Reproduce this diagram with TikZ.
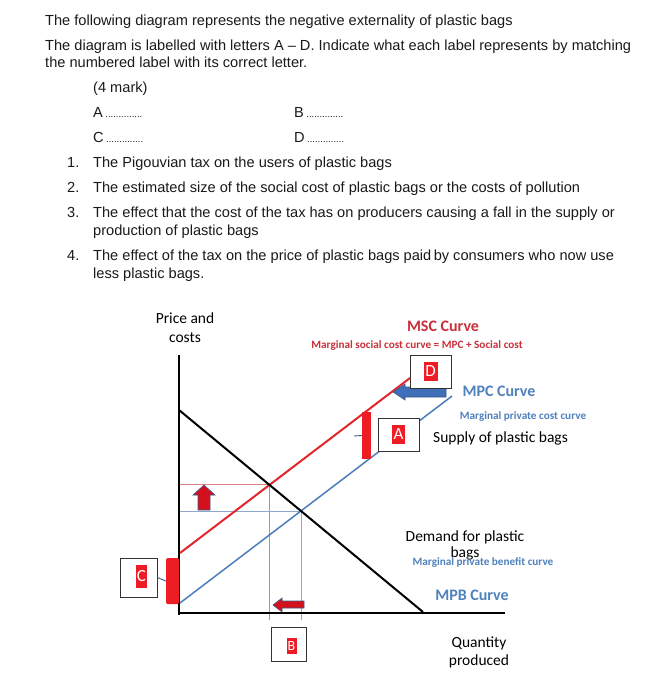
\documentclass[tikz,border=0pt]{standalone}
\usepackage{fontspec}
\setmainfont{Liberation Sans}
\newfontfamily\hdr{Liberation Sans}
\newfontfamily\dg{Carlito}
\usetikzlibrary{calc}
\definecolor{mscred}{HTML}{E3262C}
\definecolor{mpcblue}{HTML}{4A7EBB}
\definecolor{txtred}{HTML}{C9303A}
\definecolor{txtblue}{HTML}{4F81BD}
\definecolor{barred}{HTML}{EE1C25}
\definecolor{arrred}{HTML}{D3101C}
\definecolor{arrline}{HTML}{3B5A8A}
\definecolor{arrblue}{HTML}{3E6FB8}
\definecolor{thinred}{HTML}{D98080}
\definecolor{thinblue}{HTML}{8FA8CC}
\definecolor{hdrcol}{HTML}{1A1A1A}
\newcommand{\ansdots}{\,{\fontsize{9.5}{9}\selectfont ..............}}
\begin{document}
\begin{tikzpicture}[x=1pt,y=-1pt,
  hdrtext/.style={anchor=base west,inner sep=0pt,text=hdrcol,font=\hdr\fontsize{14.6}{17}\selectfont},
  dgtext/.style={inner sep=0pt,font=\dg\fontsize{15.5}{18}\selectfont},
  bigred/.style={inner sep=0pt,text=txtred,font=\dg\bfseries\fontsize{16}{18}\selectfont},
  smallred/.style={inner sep=0pt,text=txtred,font=\dg\bfseries\fontsize{11.2}{12}\selectfont},
  bigblue/.style={inner sep=0pt,text=txtblue,font=\dg\bfseries\fontsize{16}{18}\selectfont},
  smallblue/.style={inner sep=0pt,text=txtblue,font=\dg\bfseries\fontsize{11.2}{12}\selectfont},
  axisline/.style={line width=2.6pt,black},
  demandline/.style={line width=2pt,black},
  mscline/.style={line width=2pt,mscred},
  mpcline/.style={line width=1.5pt,mpcblue},
  guidered/.style={line width=0.9pt,thinred},
  guideblue/.style={line width=0.9pt,thinblue},
  letterbox/.style={draw=black!80,line width=0.9pt,fill=white,inner sep=0pt},
  letterfill/.style={fill=barred,text=white,inner sep=0pt,font=\dg\fontsize{17}{17}\selectfont},
  redbar/.style={fill=barred,draw=none},
  blockred/.style={fill=arrred,draw=arrline,line width=0.6pt,line join=miter},
  blockblue/.style={fill=arrblue,draw=arrline,line width=0.6pt,line join=miter},
  tick/.style={line width=0.9pt,arrline}
]
\useasboundingbox[fill=white] (0,0) rectangle (671,700);

% ---------- header text ----------
\node[hdrtext] (h1) at (45,26) {The following diagram represents the negative externality of plastic bags};
\node[hdrtext] (h2) at (45,51) {The diagram is labelled with letters A – D. Indicate what each label represents by matching};
\node[hdrtext] (h3) at (45,68) {the numbered label with its correct letter.};
\node[hdrtext] (h4) at (93,93) {(4 mark)};
\node[hdrtext] (la) at (93,118) {A\ansdots};
\node[hdrtext] (lb) at (294,118) {B\ansdots};
\node[hdrtext] (lc) at (93,143) {C\ansdots};
\node[hdrtext] (ld) at (294,143) {D\ansdots};
\node[hdrtext] (n1) at (67,168) {1.};
\node[hdrtext] (t1) at (93,168) {The Pigouvian tax on the users of plastic bags};
\node[hdrtext] (n2) at (67,193) {2.};
\node[hdrtext] (t2) at (93,193) {The estimated size of the social cost of plastic bags or the costs of pollution};
\node[hdrtext] (n3) at (67,218) {3.};
\node[hdrtext] (t3a) at (93,218) {The effect that the cost of the tax has on producers causing a fall in the supply or};
\node[hdrtext] (t3b) at (93,236) {production of plastic bags};
\node[hdrtext] (n4) at (67,261) {4.};
\node[hdrtext] (t4a) at (93,261) {The effect of the tax on the price of plastic bags paid\,by consumers who now use};
\node[hdrtext] (t4b) at (93,278) {less plastic bags.};

% ---------- diagram coordinates ----------
\coordinate (yTop) at (179,355);
\coordinate (orig) at (179,613);
\coordinate (xEnd) at (505,613);
\coordinate (d1) at (179,410);
\coordinate (d2) at (423,612);
\coordinate (s1) at (180,553);
\coordinate (s2) at (410,378);
\coordinate (p1) at (180,603);
\coordinate (p2) at (452,396);
\coordinate (e1) at (intersection of s1--s2 and d1--d2);
\coordinate (e0) at (intersection of p1--p2 and d1--d2);
\coordinate (qLow) at (179,620);

% guide lines
\draw[guidered] (e1 -| orig) -- (e1) -- (e1 |- qLow);
\draw[guideblue] (e0 -| orig) -- (e0) -- (e0 |- qLow);

% curves
\draw[mpcline] (p1) -- (p2);
\draw[mscline] (s1) -- (s2);
\draw[demandline] (d1) -- (d2);
\draw[axisline] (yTop) -- (179,615);
\draw[axisline] (178,613) -- (xEnd);

% block arrows
\draw[blockred] (198,510) -- (198,495) -- (193,495) -- (204,485) -- (215,495) -- (210,495) -- (210,510) -- cycle;
\draw[blockred] (304,601) -- (282,601) -- (282,598) -- (273,605) -- (282,612) -- (282,608) -- (304,608) -- cycle;
\draw[blockblue] (446,387) -- (405,387) -- (405,384) -- (393,392) -- (405,400) -- (405,397) -- (446,397) -- cycle;

% red bars
\node[redbar,minimum width=9pt,minimum height=47pt,inner sep=0pt] (barA) at (366.5,435.5) {};
\node[redbar,minimum width=13pt,minimum height=46pt,inner sep=0pt,rounded corners=1.5pt] (barC) at (172.5,581) {};
\coordinate (tickA) at (354,436);
\draw[tick] (tickA) -- (barA.west);

% letter boxes
\node[letterbox,minimum width=41pt,minimum height=33pt] (boxD) at (430.5,371.5) {};
\node[letterfill,minimum width=14pt,minimum height=19pt] (lD) at (boxD.center) {D};
\node[letterbox,minimum width=41pt,minimum height=33pt] (boxA) at (398.5,434.5) {};
\node[letterfill,minimum width=13pt,minimum height=19pt] (lA) at (boxA.center) {A};
\node[letterbox,minimum width=37pt,minimum height=39pt] (boxC) at (138.5,577.5) {};
\node[letterfill,minimum width=11pt,minimum height=23pt] (lC) at (141.5,576.5) {C};
\node[letterbox,minimum width=35pt,minimum height=34pt] (boxB) at (288.5,644) {};
\node[letterfill,minimum width=10pt,minimum height=16pt,font=\dg\fontsize{14}{14}\selectfont] (lB) at (291.5,646) {B};
\draw[tick] (boxC.east) -- (barC.west);

% ---------- diagram labels ----------
\node[dgtext,anchor=base] (price1) at (185,323) {Price and};
\node[dgtext,anchor=base] (price2) at (185,342) {costs};
\node[bigred,anchor=base] (msc) at (443,331) {MSC Curve};
\node[smallred,anchor=base] (mscd) at (417,348) {Marginal social cost curve = MPC + Social cost};
\node[bigblue,anchor=base] (mpc) at (499,396) {MPC Curve};
\node[smallblue,anchor=base] (mpcd) at (523,419) {Marginal private cost curve};
\node[dgtext,anchor=base west] (supply) at (433,442) {Supply of plastic bags};
\node[dgtext,anchor=base] (dem1) at (465,541) {Demand for plastic};
\node[dgtext,anchor=base] (dem2) at (465,557) {bags};
\node[smallblue,anchor=base] (mpbd) at (483,565) {Marginal private benefit curve};
\node[bigblue,anchor=base] (mpb) at (472,600) {MPB Curve};
\node[dgtext,anchor=base] (q1) at (479,647) {Quantity};
\node[dgtext,anchor=base] (q2) at (479,665) {produced};
\end{tikzpicture}
\end{document}
